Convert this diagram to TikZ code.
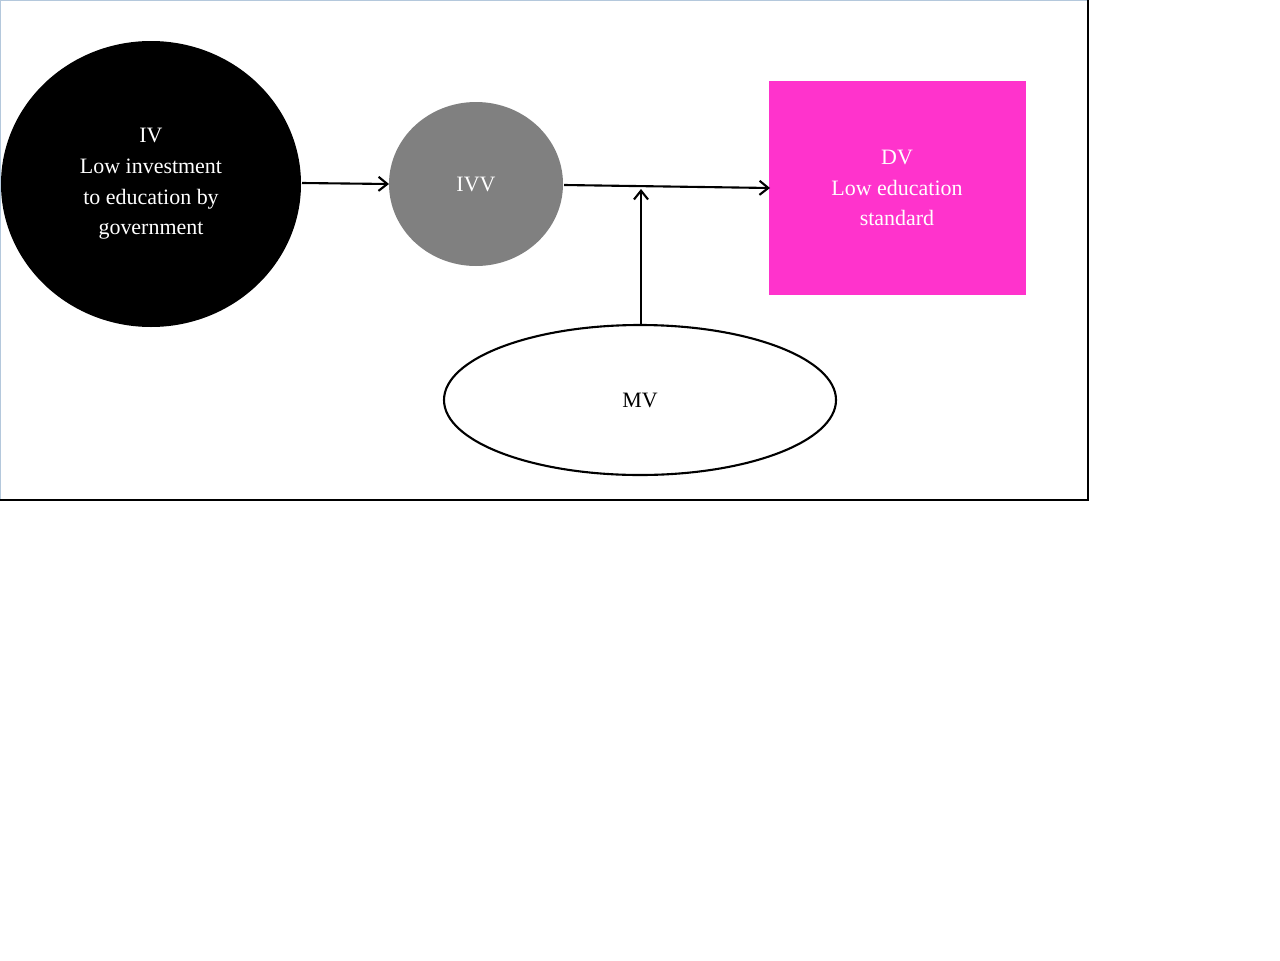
\documentclass[tikz,border=0pt]{standalone}
\usepackage{fontspec}
\setmainfont{Liberation Serif}
\usetikzlibrary{arrows.meta}
\definecolor{pinkdv}{RGB}{255,51,204}
\definecolor{framebl}{RGB}{180,200,220}
\begin{document}
\begin{tikzpicture}[x=0.02cm,y=-0.02cm,
  lbl/.style={font=\fontsize{12.5}{17.5}\selectfont,align=center},
  arr/.style={draw,line width=1.2pt,-{Straight Barb[length=5pt,width=8pt]}}]
\useasboundingbox (0,0) rectangle (1280,960);
\draw[color=framebl] (0,500) -- (0,0) -- (1088,0);
\draw[line width=0.8pt] (1088,0) -- (1088,500) -- (0,500);
\fill[black] (151,184) ellipse [x radius=150, y radius=143];
\node[lbl,text=white] (iv) at (151,184) {IV\\Low investment\\to education by\\government};
\fill[gray] (476,184) ellipse [x radius=87, y radius=82];
\node[lbl,text=white] (ivv) at (476,184) {IVV};
\fill[pinkdv] (769,81) rectangle (1026,295);
\node[lbl,text=white] (dv) at (897,188) {DV\\Low education\\standard};
\draw[line width=1.2pt] (640,400) ellipse [x radius=196, y radius=75];
\node[lbl] (mv) at (640,400) {MV};
\coordinate (a1) at (302,183); \coordinate (a2) at (389,184);
\coordinate (b1) at (564,185); \coordinate (b2) at (770,188);
\coordinate (c1) at (641,324); \coordinate (c2) at (641,189);
\draw[arr] (a1) -- (a2);
\draw[arr] (b1) -- (b2);
\draw[arr] (c1) -- (c2);
\end{tikzpicture}
\end{document}
